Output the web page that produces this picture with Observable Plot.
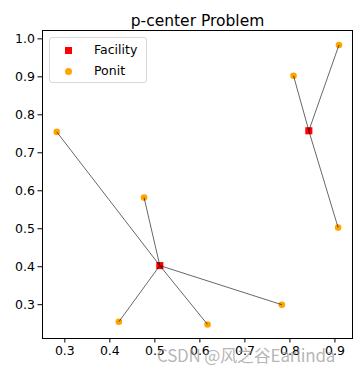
<!DOCTYPE html>
<html>
<head>
<meta charset="utf-8">
<script src="https://cdn.jsdelivr.net/npm/d3@7"></script>
<script src="https://cdn.jsdelivr.net/npm/@observablehq/plot@0.6"></script>
<style>
  html, body { margin: 0; padding: 0; background: #fff; }
  #wrap { position: relative; width: 361px; height: 372px; font-family: "DejaVu Sans", sans-serif; }
  #legend { position: absolute; left: 49px; top: 37px; width: 98px; height: 46px; border: 1px solid #d9d9d9; border-radius: 3px; background: rgba(255,255,255,0.8); box-sizing: border-box; }
  .li { position: absolute; left: 0; font-size: 12.5px; color: #000; }
  .sw { position: absolute; }
  #wm { position: absolute; left: 157px; top: 342px; font-family: "Noto Sans CJK SC", "DejaVu Sans", sans-serif; font-size: 17px; color: rgba(150,150,150,0.7); white-space: nowrap; letter-spacing: -0.2px; }
</style>
</head>
<body>
<div id="wrap"></div>
<script>
// Data
const title = "p-center Problem";
const legendLabels = ["Facility", "Ponit"];
const facX = [0.511, 0.842];
const facY = [0.403, 0.758];
const ptX = [0.282, 0.476, 0.420, 0.617, 0.782, 0.808, 0.909, 0.907];
const ptY = [0.755, 0.582, 0.255, 0.248, 0.300, 0.903, 0.984, 0.503];
const assign = [0, 0, 0, 0, 0, 1, 1, 1];
const xTicks = [0.3, 0.4, 0.5, 0.6, 0.7, 0.8, 0.9];
const yTicks = [0.3, 0.4, 0.5, 0.6, 0.7, 0.8, 0.9, 1.0];

const facilities = facX.map((x, i) => ({x, y: facY[i]}));
const points = ptX.map((x, i) => ({x, y: ptY[i], f: assign[i]}));
const links = points.map(p => ({x1: facX[p.f], y1: facY[p.f], x2: p.x, y2: p.y}));

const chart = Plot.plot({
  width: 361,
  height: 372,
  marginLeft: 42,
  marginRight: 9,
  marginTop: 30,
  marginBottom: 34,
  style: {fontFamily: "DejaVu Sans, sans-serif", fontSize: "12.5px", color: "#000", background: "#fff"},
  x: {domain: [0.2504, 0.939], ticks: xTicks, tickFormat: d3.format(".1f")},
  y: {domain: [0.211, 1.022], ticks: yTicks, tickFormat: d3.format(".1f")},
  marks: [
    Plot.frame({stroke: "#000", strokeWidth: 1}),
    Plot.axisX({ticks: xTicks, tickFormat: d3.format(".1f"), tickSize: 4.5, tickPadding: 3, label: null, fontSize: 12.5}),
    Plot.axisY({ticks: yTicks, tickFormat: d3.format(".1f"), tickSize: 4.5, tickPadding: 3, label: null, fontSize: 12.5}),
    Plot.dot(facilities, {x: "x", y: "y", symbol: "square", r: 4, fill: "red", stroke: "none"}),
    Plot.dot(points, {x: "x", y: "y", r: 3.3, fill: "orange", stroke: "none"}),
    Plot.link(links, {x1: "x1", y1: "y1", x2: "x2", y2: "y2", stroke: "#000", strokeWidth: 0.6}),
    Plot.text([title], {frameAnchor: "top", dy: -16, text: d => d, fontSize: 15.5, fill: "#000"})
  ]
});

const wrap = document.getElementById("wrap");
wrap.appendChild(chart);

// Legend overlay
const legend = document.createElement("div");
legend.id = "legend";
const items = [
  {label: legendLabels[0], type: "square", color: "red"},
  {label: legendLabels[1], type: "circle", color: "orange"}
];
items.forEach((it, i) => {
  const sw = document.createElement("div");
  sw.className = "sw";
  if (it.type === "square") {
    sw.style.cssText = `left:15px;top:${9 + i * 21}px;width:7px;height:7px;background:${it.color};`;
  } else {
    sw.style.cssText = `left:15px;top:${9 + i * 21}px;width:7px;height:7px;border-radius:50%;background:${it.color};`;
  }
  legend.appendChild(sw);
  const t = document.createElement("div");
  t.className = "li";
  t.style.left = "44px";
  t.style.top = `${4 + i * 21}px`;
  t.textContent = it.label;
  legend.appendChild(t);
});
wrap.appendChild(legend);

const wm = document.createElement("div");
wm.id = "wm";
wm.textContent = "CSDN @风之谷Earlinda";
wrap.appendChild(wm);
</script>
</body>
</html>
